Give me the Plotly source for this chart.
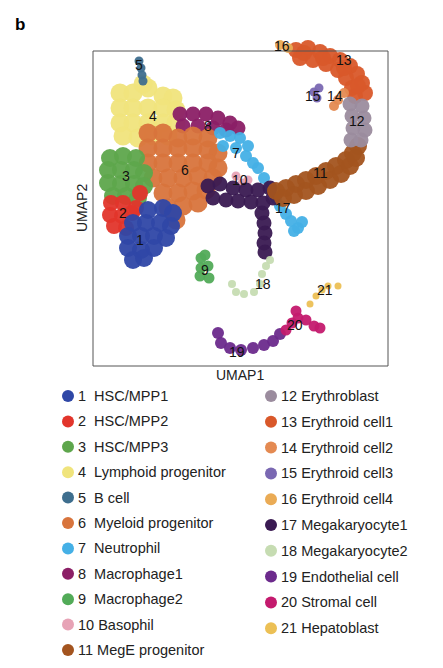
import plotly.graph_objects as go

names = ["HSC/MPP1","HSC/MPP2","HSC/MPP3","Lymphoid progenitor","B cell","Myeloid progenitor",
         "Neutrophil","Macrophage1","Macrophage2","Basophil","MegE progenitor","Erythroblast",
         "Erythroid cell1","Erythroid cell2","Erythroid cell3","Erythroid cell4","Megakaryocyte1",
         "Megakaryocyte2","Endothelial cell","Stromal cell","Hepatoblast"]
colors = ["#2f47a6","#e2352b","#5ea64c","#f0e47c","#3e6e8e","#d8743c","#45b0e6","#8b1f66",
          "#52ab58","#e7a3b6","#a3541f","#9b8c9e","#d9582a","#e48a52","#7a68b2","#eaab55",
          "#3a1a52","#c6dcb2","#6c2a8c","#c41a6e","#ecc055"]

# cluster sample points (UMAP coordinates)
pts4 = [(112,85),(125,85),(140,80),(155,88),(165,90),(112,100),(125,100),(140,100),(155,100),(168,102),
        (112,115),(125,115),(140,115),(155,115),(168,115),(115,128),(130,130),(145,128),(160,128),(135,76)]
pts5 = [(131,53),(133,60),(134,67),(135,73)]
pts8 = [(172,106),(185,106),(198,106),(210,110),(222,115),(230,120),(175,118),(190,118),(205,120),(218,122)]
pts6 = [(140,125),(155,125),(170,130),(185,128),(200,130),(140,140),(155,140),(170,140),(185,140),(200,142),
        (210,145),(140,155),(155,155),(170,155),(185,155),(200,155),(210,160),(145,170),(160,170),(175,170),
        (190,168),(205,170),(155,185),(170,185),(185,183),(198,182),(160,200),(175,198),(190,195),(168,212)]
pts3 = [(102,150),(115,148),(128,150),(100,162),(113,162),(126,162),(136,165),(100,175),(113,176),(126,176),
        (136,178),(105,188),(118,188),(130,190)]
pts2 = [(103,195),(115,195),(102,207),(114,208),(124,205),(106,218),(118,220),(128,200),(132,185)]
pts1 = [(140,202),(155,200),(165,205),(125,215),(138,215),(152,215),(163,218),(120,228),(133,228),
        (146,228),(158,230),(120,240),(133,242),(146,240),(125,252),(136,250)]
pts7 = [(212,125),(222,128),(232,130),(215,138),(228,140),(240,138),(238,148),(245,155),(250,160),
        (256,170),(262,180),(268,190),(272,198),(278,206),(283,213),(290,220),(294,214),(286,223)]
pts10 = [(228,168),(234,175),(240,172)]
pts17 = [(200,178),(212,176),(225,180),(238,182),(250,182),(262,180),(205,190),(218,192),(230,193),
         (243,194),(255,195),(265,190),(254,205),(256,215),(257,225),(256,235),(257,244)]
pts11 = [(268,183),(278,180),(288,176),(298,172),(308,168),(318,163),(328,158),(338,152),(345,145),
         (350,138),(275,190),(286,187),(298,183),(310,178),(322,172),(333,166),(342,158),(348,150)]
pts12 = [(342,96),(354,98),(344,108),(356,110),(345,120),(357,122),(343,132),(353,132)]
pts13 = [(288,42),(300,40),(312,44),(322,48),(332,52),(342,58),(349,66),(354,75),(357,85),
         (292,50),(305,52),(318,56),(330,62),(338,70),(344,80),(347,88),(296,45),(315,50),(336,60),(350,78)]
pts14 = [(330,92),(336,85),(326,98)]
pts15 = [(306,84),(309,90),(311,80)]
pts16 = [(272,37),(280,40)]
pts9 = [(193,250),(197,247),(193,260),(200,258),(192,268),(201,270)]
pts18 = [(262,252),(258,258),(254,266),(252,276),(246,284),(236,286),(228,284),(224,276)]
pts19 = [(210,325),(213,335),(222,340),(233,342),(245,340),(256,337),(265,333),(272,326)]
pts20 = [(278,322),(284,315),(290,310),(298,312),(306,318),(312,320),(288,303)]
pts21 = [(302,296),(308,288),(314,282),(320,278),(330,278)]

clusters = [pts1,pts2,pts3,pts4,pts5,pts6,pts7,pts8,pts9,pts10,pts11,pts12,pts13,pts14,pts15,pts16,
            pts17,pts18,pts19,pts20,pts21]
sizes = [18,16,18,19,9,19,12,15,11,9,18,15,16,10,9,10,15,8,12,11,7]
draw_order = [3,4,7,5,2,1,0,6,9,16,10,12,11,13,14,15,8,17,18,19,20]

label_pos = [(132,232),(115,205),(118,168),(145,108),(131,57),(177,162),(228,145),(200,118),(197,262),
             (232,172),(312,165),(349,113),(336,52),(327,88),(305,88),(274,38),(275,200),(255,276),
             (229,344),(287,317),(317,282)]

fig = go.Figure()
fig.add_shape(type="rect", x0=85, x1=380, y0=43, y1=358, line=dict(color="#555", width=1), layer="above")
for i in draw_order:
    p = clusters[i]
    fig.add_trace(go.Scatter(x=[a for a, b in p], y=[b for a, b in p], mode="markers",
                             marker=dict(size=sizes[i], color=colors[i], opacity=0.95, line=dict(width=0)),
                             showlegend=False, hoverinfo="skip"))
for i, (x, y) in enumerate(label_pos):
    fig.add_annotation(x=x, y=y, text=str(i + 1), showarrow=False,
                       font=dict(size=14, color="#111", family="Arial"))

lx, ly = [], []
for i, n in enumerate(names):
    if i < 11:
        x, y = 60, 388 + i * 25.4
    else:
        x, y = 263, 388 + (i - 11) * 25.8
    lx.append(x); ly.append(y)
    fig.add_annotation(x=x + 8, y=y, xanchor="left", showarrow=False,
                       text=f"{i+1}  {n}" if i < 9 else f"{i+1} {n}",
                       font=dict(size=14.5, color="#222", family="Arial"))
fig.add_trace(go.Scatter(x=lx, y=ly, mode="markers",
                         marker=dict(size=12, color=colors), showlegend=False, hoverinfo="skip"))
fig.add_annotation(x=12, y=16, text="<b>b</b>", showarrow=False,
                   font=dict(size=17, color="#000", family="Arial"))
fig.add_annotation(x=232, y=367, text="UMAP1", showarrow=False,
                   font=dict(size=14, color="#222", family="Arial"))
fig.add_annotation(x=74, y=200, text="UMAP2", showarrow=False, textangle=-90,
                   font=dict(size=14, color="#222", family="Arial"))

fig.update_layout(
    width=443, height=668, margin=dict(l=0, r=0, t=0, b=0),
    paper_bgcolor="white", plot_bgcolor="white",
    xaxis=dict(domain=[0, 1], range=[0, 443], visible=False, fixedrange=True),
    yaxis=dict(domain=[0, 1], range=[668, 0], visible=False, fixedrange=True),
)
fig.write_html("out.html")
